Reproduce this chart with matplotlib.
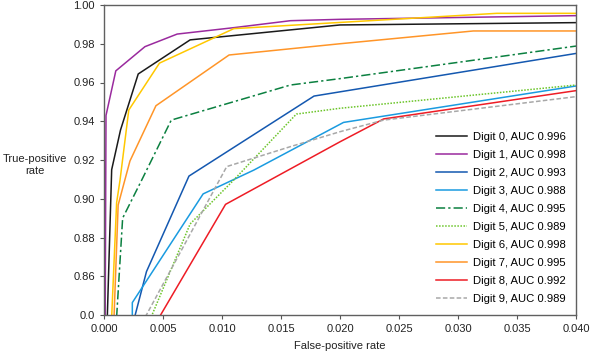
import matplotlib
matplotlib.use('Agg')
import matplotlib.pyplot as plt

plt.rcParams['font.family'] = ['Liberation Sans', 'DejaVu Sans']

# ROC points (fpr, tpr); first point is where the curve leaves the bottom edge
fpr0 = [0.00028, 0.00065, 0.0014, 0.0029, 0.0073, 0.020, 0.040]
tpr0 = [0.839, 0.915, 0.9355, 0.9644, 0.982, 0.9897, 0.9909]
fpr1 = [0.0001, 0.00017, 0.0010, 0.00347, 0.0062, 0.011, 0.0158, 0.020, 0.040]
tpr1 = [0.839, 0.943, 0.966, 0.9785, 0.985, 0.9883, 0.9919, 0.9926, 0.9945]
fpr2 = [0.0026, 0.0036, 0.0072, 0.0178, 0.040]
tpr2 = [0.839, 0.8624, 0.9117, 0.953, 0.975]
fpr3 = [0.0024, 0.0024, 0.0084, 0.0127, 0.0203, 0.040]
tpr3 = [0.839, 0.8464, 0.9025, 0.9148, 0.9394, 0.9582]
fpr4 = [0.00107, 0.00158, 0.0032, 0.0057, 0.0158, 0.020, 0.040]
tpr4 = [0.839, 0.890, 0.9097, 0.9406, 0.9587, 0.962, 0.9788]
fpr5 = [0.0040, 0.0073, 0.011, 0.0163, 0.020, 0.040]
tpr5 = [0.839, 0.887, 0.9097, 0.9437, 0.9467, 0.9587]
fpr6 = [0.00065, 0.00107, 0.00136, 0.0021, 0.0047, 0.011, 0.020, 0.0333, 0.040]
tpr6 = [0.839, 0.898, 0.9097, 0.9458, 0.970, 0.9878, 0.991, 0.9957, 0.9957]
fpr7 = [0.00085, 0.0012, 0.0022, 0.0044, 0.0106, 0.020, 0.0313, 0.040]
tpr7 = [0.839, 0.8968, 0.9195, 0.948, 0.9742, 0.980, 0.9866, 0.9866]
fpr8 = [0.0047, 0.0103, 0.020, 0.0237, 0.040]
tpr8 = [0.839, 0.8971, 0.9294, 0.9412, 0.9558]
fpr9 = [0.0035, 0.0104, 0.0158, 0.020, 0.0237, 0.040]
tpr9 = [0.839, 0.9166, 0.9269, 0.9346, 0.9406, 0.9527]

aucs = [0.996, 0.998, 0.993, 0.988, 0.995, 0.989, 0.998, 0.995, 0.992, 0.989]
colors = ['#1a1a1a', '#9a2a9e', '#1458b0', '#1a9be0', '#0b8040',
          '#6cc52a', '#ffc800', '#ff9528', '#ee1c25', '#a8a8a8']
styles = ['-', '-', '-', '-', (0, (6, 2, 1.5, 2)), (0, (1, 1)), '-', '-', '-', (0, (3, 1.5))]

yticks = [0.84, 0.86, 0.88, 0.90, 0.92, 0.94, 0.96, 0.98, 1.00]
ytick_labels = ['0.0', '0.86', '0.88', '0.90', '0.92', '0.94', '0.96', '0.98', '1.00']
xticks = [0.0, 0.005, 0.010, 0.015, 0.020, 0.025, 0.030, 0.035, 0.040]

fprs = [fpr0, fpr1, fpr2, fpr3, fpr4, fpr5, fpr6, fpr7, fpr8, fpr9]
tprs = [tpr0, tpr1, tpr2, tpr3, tpr4, tpr5, tpr6, tpr7, tpr8, tpr9]

fig = plt.figure(figsize=(5.9, 3.53), dpi=100)
ax = fig.add_axes([104 / 590, 1 - 315 / 353, 472 / 590, 310 / 353])

for i in range(10):
    ax.plot(fprs[i], tprs[i], color=colors[i], linestyle=styles[i], lw=1.1,
            label=f'Digit {i}, AUC {aucs[i]:.3f}')

ax.set_xlim(0, 0.04)
ax.set_ylim(0.84, 1.0)
ax.set_xticks(xticks)
ax.set_xticklabels([f'{t:.3f}' for t in xticks])
ax.set_yticks(yticks)
ax.set_yticklabels(ytick_labels)
ax.tick_params(labelsize=8, colors='#555555', labelcolor='#222222',
               length=3, width=0.8, direction='out')
for s in ax.spines.values():
    s.set_color('#606060')
    s.set_linewidth(1.0)

ax.set_xlabel('False-positive rate', fontsize=8, color='#222222', labelpad=5)
fig.text(35 / 590, 1 - 165 / 353, 'True-positive\nrate', fontsize=8,
         color='#222222', ha='center', va='center')

ax.legend(loc='upper left', bbox_to_anchor=(0.703, 0.59), frameon=False,
          fontsize=8.1, handlelength=2.8, handletextpad=0.5,
          labelspacing=0.71, borderpad=0, borderaxespad=0)

fig.savefig('out.png', dpi=100)
